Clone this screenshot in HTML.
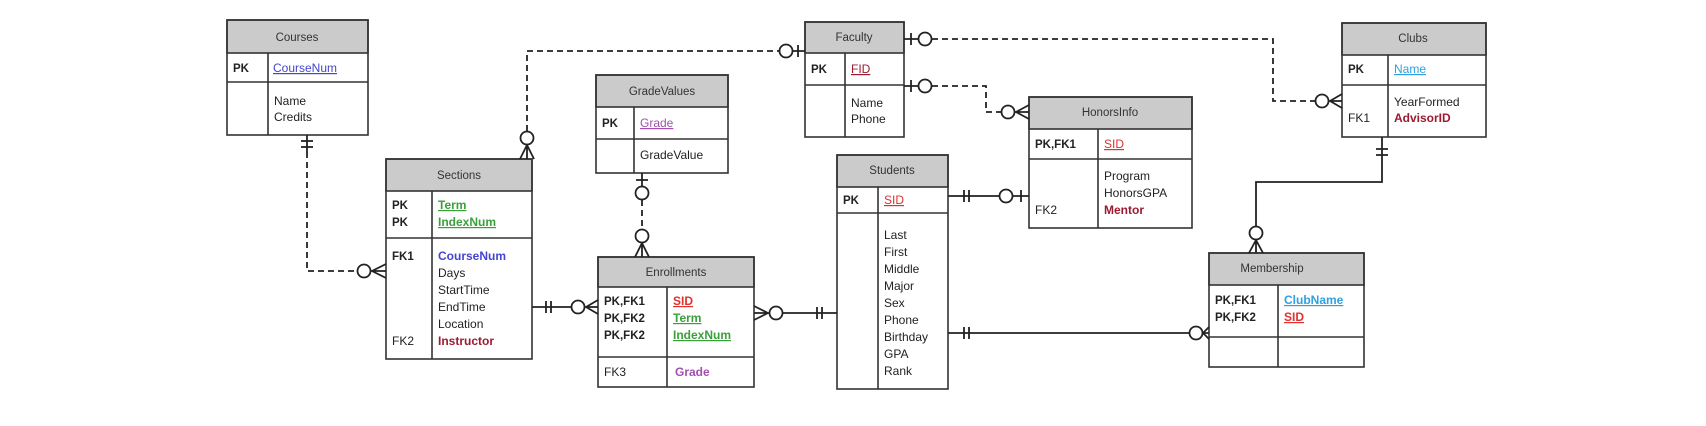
<!DOCTYPE html>
<html><head><meta charset="utf-8"><style>
html,body{margin:0;padding:0;background:#fff;}
svg{display:block;}
text{font-family:"Liberation Sans",Arial,sans-serif;font-size:12px;fill:#222;}
.t{font-size:11.5px;text-anchor:middle;fill:#333;}
.k{font-weight:bold;font-size:11.5px;}
.b{fill:none;stroke:#333;stroke-width:1.6;}
.h{fill:#cbcbcb;stroke:#333;stroke-width:1.6;}
.c{fill:none;stroke:#222;stroke-width:1.8;}
.d{fill:none;stroke:#222;stroke-width:1.8;stroke-dasharray:6,4;}
.o{fill:#fff;stroke:#222;stroke-width:1.8;}
</style></head><body>
<svg width="1706" height="426" viewBox="0 0 1706 426">
<!-- Courses -->
<rect class="h" x="227" y="20" width="141" height="33"/>
<rect class="b" x="227" y="20" width="141" height="115"/>
<line class="b" x1="227" y1="82" x2="368" y2="82"/><line class="b" x1="268" y1="53" x2="268" y2="135"/>
<text class="t" x="297" y="41">Courses</text>
<text class="k" x="233" y="72">PK</text>
<text x="273" y="72" fill="#4545d0" style="fill:#4545d0;text-decoration:underline">CourseNum</text>
<text x="274" y="105">Name</text><text x="274" y="121">Credits</text>

<!-- Sections -->
<rect class="h" x="386" y="159" width="146" height="32"/>
<rect class="b" x="386" y="159" width="146" height="200"/>
<line class="b" x1="386" y1="238" x2="532" y2="238"/><line class="b" x1="432" y1="191" x2="432" y2="359"/>
<text class="t" x="459" y="179">Sections</text>
<text class="k" x="392" y="209">PK</text><text class="k" x="392" y="226">PK</text>
<text x="438" y="209" style="fill:#3aa03a;font-weight:bold;text-decoration:underline">Term</text>
<text x="438" y="226" style="fill:#3aa03a;font-weight:bold;text-decoration:underline">IndexNum</text>
<text class="k" x="392" y="260">FK1</text><text x="392" y="345">FK2</text>
<text x="438" y="260" style="fill:#4545d0;font-weight:bold">CourseNum</text>
<text x="438" y="277">Days</text><text x="438" y="294">StartTime</text><text x="438" y="311">EndTime</text><text x="438" y="328">Location</text>
<text x="438" y="345" style="fill:#9b1b30;font-weight:bold">Instructor</text>

<!-- GradeValues -->
<rect class="h" x="596" y="75" width="132" height="32"/>
<rect class="b" x="596" y="75" width="132" height="98"/>
<line class="b" x1="596" y1="139" x2="728" y2="139"/><line class="b" x1="634" y1="107" x2="634" y2="173"/>
<text class="t" x="662" y="95">GradeValues</text>
<text class="k" x="602" y="127">PK</text>
<text x="640" y="127" style="fill:#a050b0;text-decoration:underline">Grade</text>
<text x="640" y="159">GradeValue</text>

<!-- Enrollments -->
<rect class="h" x="598" y="257" width="156" height="30"/>
<rect class="b" x="598" y="257" width="156" height="130"/>
<line class="b" x1="598" y1="357" x2="754" y2="357"/><line class="b" x1="667" y1="287" x2="667" y2="387"/>
<text class="t" x="676" y="276">Enrollments</text>
<text class="k" x="604" y="305">PK,FK1</text><text class="k" x="604" y="322">PK,FK2</text><text class="k" x="604" y="339">PK,FK2</text>
<text x="673" y="305" style="fill:#e03030;font-weight:bold;text-decoration:underline">SID</text>
<text x="673" y="322" style="fill:#3aa03a;font-weight:bold;text-decoration:underline">Term</text>
<text x="673" y="339" style="fill:#3aa03a;font-weight:bold;text-decoration:underline">IndexNum</text>
<text x="604" y="376">FK3</text><text x="675" y="376" style="fill:#a050b0;font-weight:bold">Grade</text>

<!-- Faculty -->
<rect class="h" x="805" y="22" width="99" height="31"/>
<rect class="b" x="805" y="22" width="99" height="115"/>
<line class="b" x1="805" y1="85" x2="904" y2="85"/><line class="b" x1="845" y1="53" x2="845" y2="137"/>
<text class="t" x="854" y="41">Faculty</text>
<text class="k" x="811" y="73">PK</text>
<text x="851" y="73" style="fill:#9b1b30;text-decoration:underline">FID</text>
<text x="851" y="107">Name</text><text x="851" y="123">Phone</text>

<!-- HonorsInfo -->
<rect class="h" x="1029" y="97" width="163" height="32"/>
<rect class="b" x="1029" y="97" width="163" height="131"/>
<line class="b" x1="1029" y1="159" x2="1192" y2="159"/><line class="b" x1="1098" y1="129" x2="1098" y2="228"/>
<text class="t" x="1110" y="116">HonorsInfo</text>
<text class="k" x="1035" y="148">PK,FK1</text>
<text x="1104" y="148" style="fill:#e03030;text-decoration:underline">SID</text>
<text x="1104" y="180">Program</text><text x="1104" y="197">HonorsGPA</text>
<text x="1104" y="214" style="fill:#9b1b30;font-weight:bold">Mentor</text>
<text x="1035" y="214">FK2</text>

<!-- Students -->
<rect class="h" x="837" y="155" width="111" height="32"/>
<rect class="b" x="837" y="155" width="111" height="234"/>
<line class="b" x1="837" y1="213" x2="948" y2="213"/><line class="b" x1="878" y1="187" x2="878" y2="389"/>
<text class="t" x="892" y="174">Students</text>
<text class="k" x="843" y="204">PK</text>
<text x="884" y="204" style="fill:#e03030;text-decoration:underline">SID</text>
<text x="884" y="239">Last</text><text x="884" y="256">First</text><text x="884" y="273">Middle</text><text x="884" y="290">Major</text><text x="884" y="307">Sex</text><text x="884" y="324">Phone</text><text x="884" y="341">Birthday</text><text x="884" y="358">GPA</text><text x="884" y="375">Rank</text>

<!-- Membership -->
<rect class="h" x="1209" y="253" width="155" height="32"/>
<rect class="b" x="1209" y="253" width="155" height="114"/>
<line class="b" x1="1209" y1="337" x2="1364" y2="337"/><line class="b" x1="1278" y1="285" x2="1278" y2="367"/>
<text class="t" x="1272" y="272">Membership</text>
<text class="k" x="1215" y="304">PK,FK1</text><text class="k" x="1215" y="321">PK,FK2</text>
<text x="1284" y="304" style="fill:#30a0e0;font-weight:bold;text-decoration:underline">ClubName</text>
<text x="1284" y="321" style="fill:#e03030;font-weight:bold;text-decoration:underline">SID</text>

<!-- Clubs -->
<rect class="h" x="1342" y="23" width="144" height="32"/>
<rect class="b" x="1342" y="23" width="144" height="114"/>
<line class="b" x1="1342" y1="85" x2="1486" y2="85"/><line class="b" x1="1388" y1="55" x2="1388" y2="137"/>
<text class="t" x="1413" y="42">Clubs</text>
<text class="k" x="1348" y="73">PK</text>
<text x="1394" y="73" style="fill:#30a0e0;text-decoration:underline">Name</text>
<text x="1394" y="106">YearFormed</text>
<text x="1394" y="122" style="fill:#9b1b30;font-weight:bold">AdvisorID</text>
<text x="1348" y="122">FK1</text>

<!-- Courses -> Sections -->
<path class="d" d="M307 152 V271 H357"/>
<line class="c" x1="307" y1="135" x2="307" y2="152"/>
<line class="c" x1="301" y1="141" x2="313" y2="141"/><line class="c" x1="301" y1="147" x2="313" y2="147"/>
<circle class="o" cx="364" cy="271" r="6.5"/>
<path class="c" d="M371 271 H386 M372 271 L386 264 M372 271 L386 278"/>

<!-- Sections -> Faculty -->
<path class="d" d="M527 131 V51 H779"/>
<circle class="o" cx="527" cy="138" r="6.5"/>
<path class="c" d="M527 145 V159 M527 145 L520 159 M527 145 L534 159"/>
<circle class="o" cx="786" cy="51" r="6.5"/>
<path class="c" d="M793 51 H805 M798 45 V57"/>

<!-- Faculty -> Clubs -->
<path class="c" d="M904 39 H918 M911 33 V45"/>
<circle class="o" cx="925" cy="39" r="6.5"/>
<path class="d" d="M932 39 H1273 V101 H1315"/>
<circle class="o" cx="1322" cy="101" r="6.5"/>
<path class="c" d="M1329 101 H1342 M1330 101 L1342 94 M1330 101 L1342 108"/>

<!-- Faculty -> HonorsInfo -->
<path class="c" d="M904 86 H918 M911 80 V92"/>
<circle class="o" cx="925" cy="86" r="6.5"/>
<path class="d" d="M932 86 H986 V112 H1001"/>
<circle class="o" cx="1008" cy="112" r="6.5"/>
<path class="c" d="M1015 112 H1029 M1016 112 L1029 105 M1016 112 L1029 119"/>

<!-- GradeValues -> Enrollments -->
<path class="c" d="M642 173 V186 M636 180 H648"/>
<circle class="o" cx="642" cy="193" r="6.5"/>
<path class="d" d="M642 200 V229"/>
<circle class="o" cx="642" cy="236" r="6.5"/>
<path class="c" d="M642 243 V257 M642 243 L635 257 M642 243 L649 257"/>

<!-- Sections -> Enrollments -->
<path class="c" d="M532 307 H571 M546 301 V313 M551 301 V313"/>
<circle class="o" cx="578" cy="307" r="6.5"/>
<path class="c" d="M585 307 H598 M586 307 L598 300 M586 307 L598 314"/>

<!-- Enrollments -> Students -->
<path class="c" d="M754 306 L768 313 M754 320 L768 313 M754 313 H769"/>
<circle class="o" cx="776" cy="313" r="6.5"/>
<path class="c" d="M783 313 H837 M817 307 V319 M822 307 V319"/>

<!-- Students -> HonorsInfo -->
<path class="c" d="M948 196 H999 M964 190 V202 M969 190 V202"/>
<circle class="o" cx="1006" cy="196" r="6.5"/>
<path class="c" d="M1013 196 H1029 M1021 190 V202"/>

<!-- Students -> Membership -->
<path class="c" d="M948 333 H1189 M964 327 V339 M969 327 V339"/>
<circle class="o" cx="1196" cy="333" r="6.5"/>
<path class="c" d="M1203 333 H1209 M1203 333 L1209 327 M1203 333 L1209 339"/>

<!-- Clubs -> Membership -->
<path class="c" d="M1382 137 V182 H1256 V226 M1376 149 H1388 M1376 155 H1388"/>
<circle class="o" cx="1256" cy="233" r="6.5"/>
<path class="c" d="M1256 240 V253 M1256 240 L1249 253 M1256 240 L1263 253"/>
</svg>
</body></html>
